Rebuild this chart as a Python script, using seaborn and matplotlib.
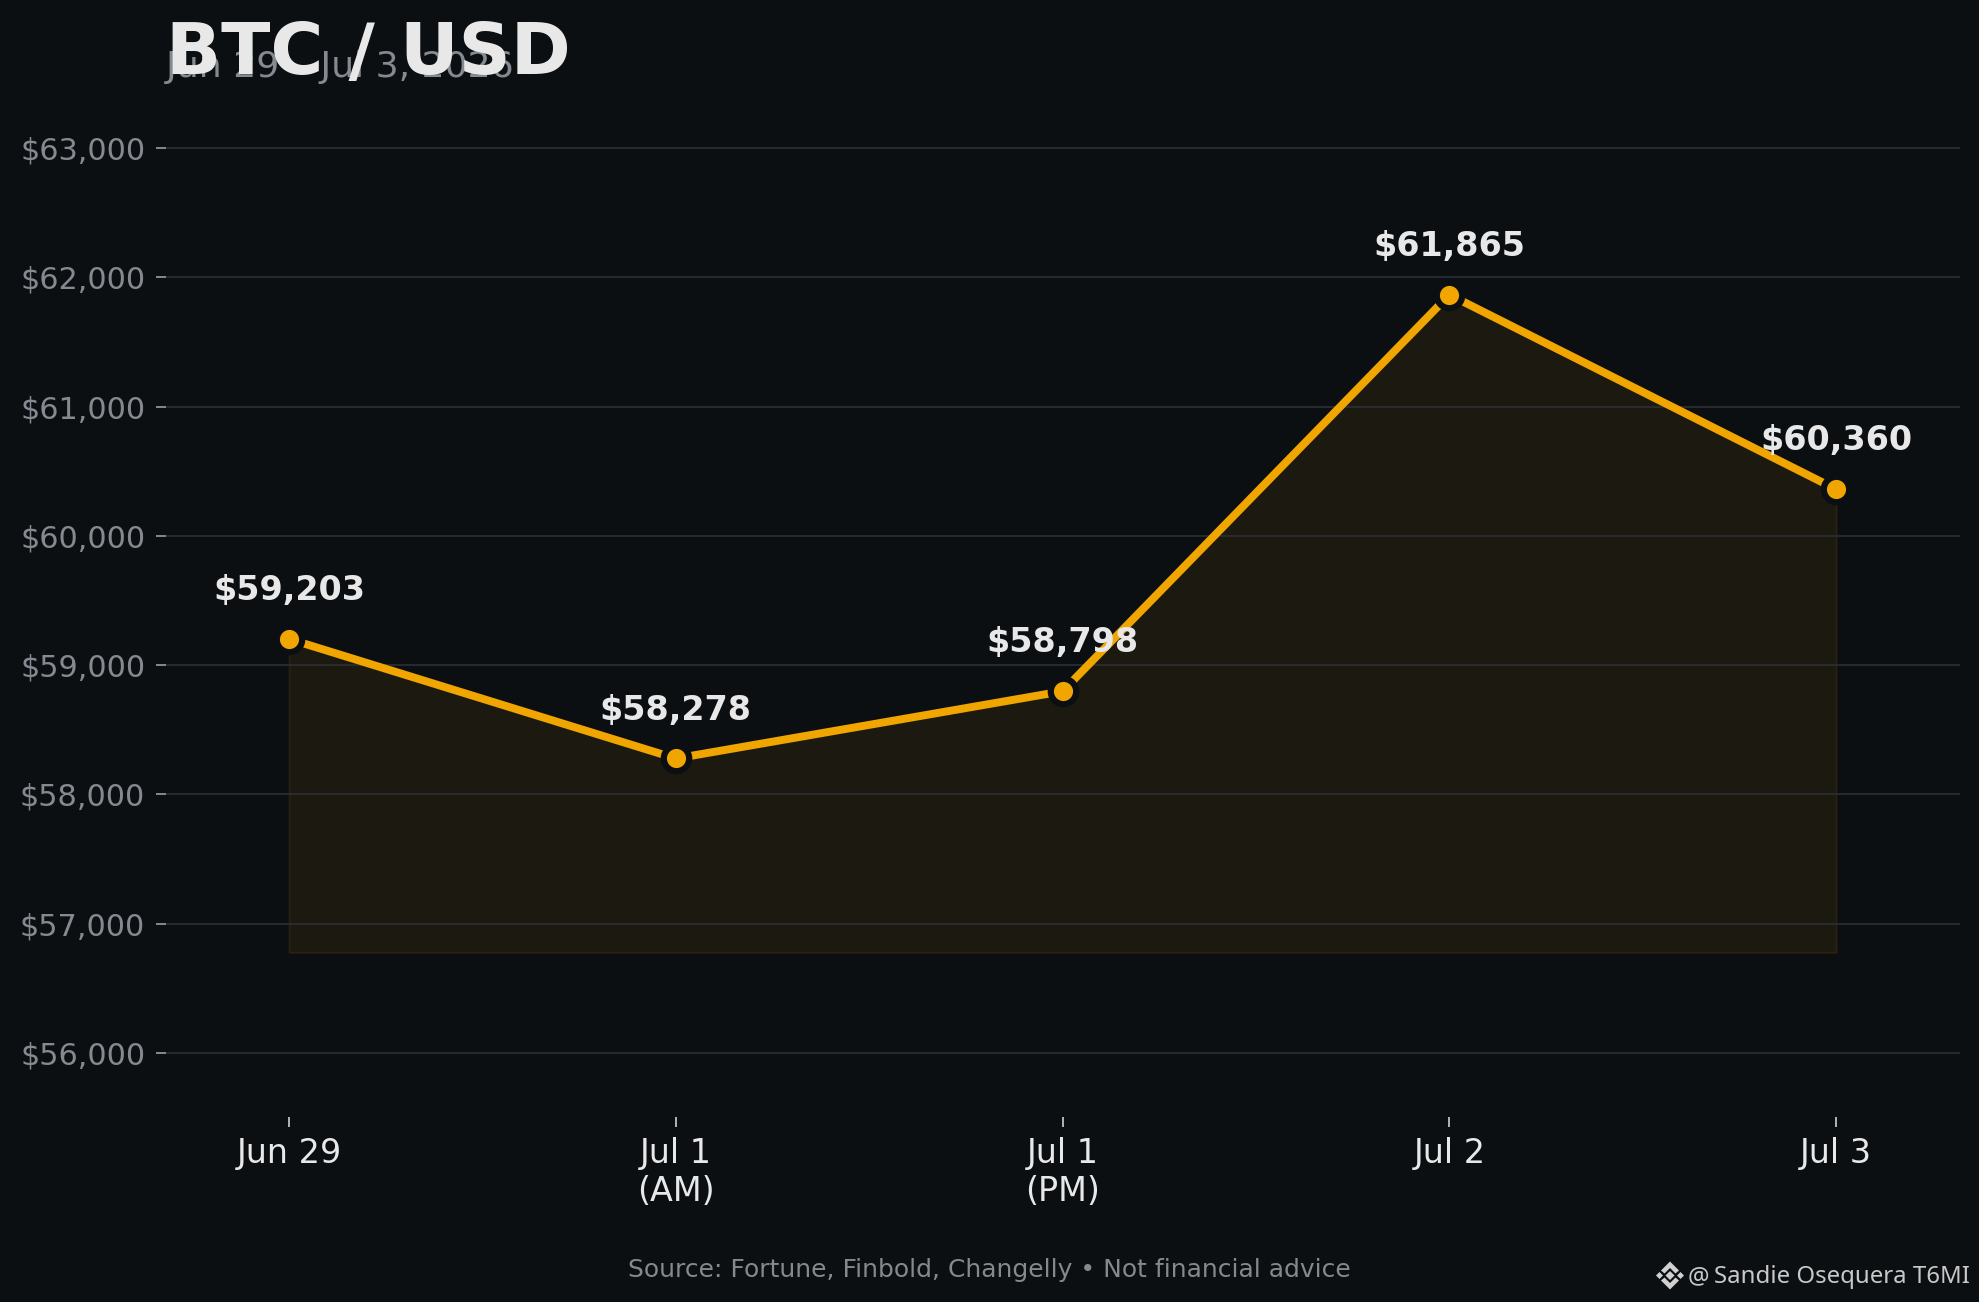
import numpy as np
import pandas as pd
import matplotlib
matplotlib.use("Agg")
import matplotlib.pyplot as plt
import seaborn as sns
from matplotlib.patches import Polygon
from matplotlib.ticker import FuncFormatter
from matplotlib.transforms import IdentityTransform

# data
positions = [0, 1, 2, 3, 4]
day_labels = ["Jun 29", "Jul 1\n(AM)", "Jul 1\n(PM)", "Jul 2", "Jul 3"]
prices = [59203, 58278, 58798, 61865, 60360]
y_ticks = [56000, 57000, 58000, 59000, 60000, 61000, 62000, 63000]
fill_floor = 56778

BG = "#0b0f12"
ORANGE = "#f0a500"
LIGHT = "#e8e8e8"
GREY = "#858a90"

W, H, DPI = 1979, 1302, 150

sns.set_theme(style="dark", rc={
    "figure.facecolor": BG,
    "axes.facecolor": BG,
    "savefig.facecolor": BG,
})
plt.rcParams["font.family"] = ["DejaVu Sans"]

df = pd.DataFrame({"pos": positions, "price": prices})

fig = plt.figure(figsize=(W / DPI, H / DPI), dpi=DPI)
ax = fig.add_axes([166 / W, 1 - 1117 / H, (1960 - 166) / W, (1117 - 84) / H])

ax.fill_between(df["pos"], df["price"], fill_floor, color=ORANGE, alpha=0.08, zorder=1)

sns.lineplot(
    data=df, x="pos", y="price", ax=ax,
    color=ORANGE, linewidth=3.8,
    marker="o", markersize=12.2,
    markeredgecolor=BG, markeredgewidth=3,
    zorder=4,
)

for x, y in zip(positions, prices):
    ax.annotate(
        f"${y:,}", (x, y), xytext=(0, 18.7), textcoords="offset points",
        ha="center", va="baseline", fontsize=16, fontweight="bold",
        color=LIGHT, zorder=5,
    )

ax.set_xlim(-0.318, 4.32)
ax.set_ylim(55505, 63495)
ax.set_xticks(positions)
ax.set_xticklabels(day_labels)
ax.set_yticks(y_ticks)
ax.yaxis.set_major_formatter(FuncFormatter(lambda v, _: f"${v:,.0f}"))
ax.set_xlabel("")
ax.set_ylabel("")

ax.grid(axis="y", color="#2c2f35", linewidth=0.8, zorder=2)
ax.grid(axis="x", visible=False)
ax.set_axisbelow(False)
ax.tick_params(axis="x", length=5, width=0.8, color="#d0d0d0", labelcolor=LIGHT,
               labelsize=16, pad=4.5, bottom=True)
ax.tick_params(axis="y", length=5, width=0.8, color="#9a9ea4", labelcolor=GREY,
               labelsize=14.6, pad=5, left=True)
sns.despine(ax=ax, left=True, bottom=True)

fig.text(166 / W, 1 - 74 / H, "BTC / USD", fontsize=34.7, fontweight="bold",
         color=LIGHT, va="baseline", ha="left", zorder=6)
fig.text(166 / W, 1 - 77 / H, "Jun 29 – Jul 3, 2026", fontsize=17.4,
         color=GREY, va="baseline", ha="left", zorder=5)
fig.text(0.5, 1 - 1277 / H, "Source: Fortune, Finbold, Changelly • Not financial advice",
         fontsize=12, color="#85898e", va="baseline", ha="center")

# watermark
fig.text(1688 / W, 1 - 1283 / H, "@", fontsize=11.5, family="Noto Sans",
         color="#c8c8c8", va="baseline", ha="left")
fig.text(1714 / W, 1 - 1283 / H, "Sandie Osequera T6MI", fontsize=11.5, family="Noto Sans",
         color="#c8c8c8", va="baseline", ha="left")

cx, cy = 1670, H - 1275.5


def logo_piece(points):
    pts = [(cx + px, cy + py) for px, py in points]
    fig.add_artist(Polygon(pts, closed=True, facecolor="#d0d0d0", edgecolor="none",
                           transform=IdentityTransform()))


logo_piece([(0, 4.5), (4.5, 0), (0, -4.5), (-4.5, 0)])
logo_piece([(-10.5, 3.5), (-7, 0), (-10.5, -3.5), (-14, 0)])
logo_piece([(10.5, 3.5), (14, 0), (10.5, -3.5), (7, 0)])
logo_piece([(0, 14), (9, 5), (5.5, 2), (0, 7.5), (-5.5, 2), (-9, 5)])
logo_piece([(0, -14), (9, -5), (5.5, -2), (0, -7.5), (-5.5, -2), (-9, -5)])

fig.savefig("out.png", dpi=DPI)
